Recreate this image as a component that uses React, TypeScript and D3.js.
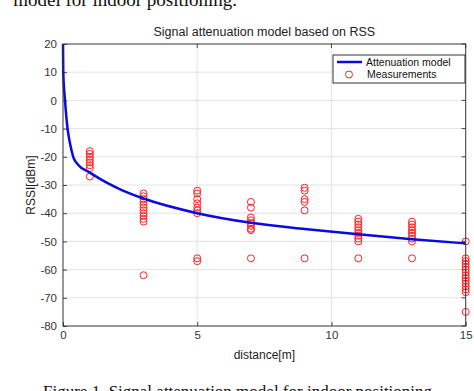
import React, { FC, useEffect, useRef } from 'react'
import * as d3 from 'd3'

// model curve
const modelDistance = [0, 0.01, 0.075, 0.17, 0.26, 0.38, 0.57, 1, 1.56, 2.19, 3, 5, 7, 9, 11, 13, 15]
const modelRss = [20, 10, 0, -10, -15.2, -20, -22.9, -25.6, -28.8, -31.8, -34.8, -40, -43.4, -45.6, -47.5, -49.2, -50.7]

// measurements per distance
const distances = [1, 3, 5, 7, 9, 11, 13, 15]
const rssAt1 = [-18, -19, -20, -21, -22, -23, -24, -27]
const rssAt3 = [-33, -34, -35, -36, -37, -38, -39, -40, -41, -42, -43, -62]
const rssAt5 = [-32, -33, -35, -36.5, -38, -39, -40, -56, -57]
const rssAt7 = [-36, -38, -41.5, -42.5, -43.5, -44.5, -45.5, -46, -56]
const rssAt9 = [-31, -32, -35, -36, -39, -56]
const rssAt11 = [-42, -43, -44, -45, -46, -47, -48, -49, -50, -56]
const rssAt13 = [-43, -44, -45, -46, -47, -48, -49, -50, -56]
const rssAt15 = [-50, -56, -57, -58, -59, -60, -61, -62, -63, -64, -65, -66, -67, -68, -75]
const measurements = [rssAt1, rssAt3, rssAt5, rssAt7, rssAt9, rssAt11, rssAt13, rssAt15]

const xTicks = [0, 5, 10, 15]
const yTicks = [20, 10, 0, -10, -20, -30, -40, -50, -60, -70, -80]

const W = 474
const H = 391
const left = 63
const right = 465.7
const top = 44
const bottom = 326
const sans = '"Liberation Sans", Arial, sans-serif'
const serif = '"Liberation Serif", "Times New Roman", serif'

const App: FC = () => {
	const xAxis = useRef<SVGGElement>(null)
	const yAxis = useRef<SVGGElement>(null)

	const x = d3.scaleLinear().domain([0, 15]).range([left, right])
	const y = d3.scaleLinear().domain([-80, 20]).range([bottom, top])

	const line = d3
		.line<number>()
		.x((d) => x(d))
		.y((_, i) => y(modelRss[i]))
		.curve(d3.curveMonotoneX)

	useEffect(() => {
		if (xAxis.current) {
			const g = d3.select(xAxis.current)
			g.call(
				d3
					.axisBottom(x)
					.tickValues(xTicks)
					.tickFormat((d) => String(d))
					.tickSize(-4)
					.tickSizeOuter(0)
					.tickPadding(5)
			)
			g.select('.domain').remove()
			g.selectAll('line').attr('stroke', '#444')
			g.selectAll('text').attr('fill', '#333').attr('font-size', 11.5).attr('font-family', sans)
		}
		if (yAxis.current) {
			const g = d3.select(yAxis.current)
			g.call(
				d3
					.axisLeft(y)
					.tickValues(yTicks)
					.tickFormat((d) => String(d))
					.tickSize(-4)
					.tickSizeOuter(0)
					.tickPadding(6)
			)
			g.select('.domain').remove()
			g.selectAll('line').attr('stroke', '#444')
			g.selectAll('text').attr('fill', '#333').attr('font-size', 11.5).attr('font-family', sans)
		}
	}, [])

	return (
		<svg
			width={W}
			height={H}
			style={{ position: 'absolute', left: 0, top: 0, background: '#fff' }}
		>
			{/* cropped caption text of the page */}
			<text x={237} y={6} textAnchor="end" fontFamily={serif} fontSize={19} fill="#111">
				model for indoor positioning.
			</text>
			<text x={43} y={397} fontFamily={serif} fontSize={17} fill="#111">
				Figure 1. Signal attenuation model for indoor positioning
			</text>

			{/* grid */}
			<g stroke="#e3e3e3" strokeWidth={1}>
				{yTicks.slice(1, -1).map((t) => (
					<line key={'gy' + t} x1={left} x2={right} y1={y(t)} y2={y(t)} />
				))}
				{xTicks.slice(1, -1).map((t) => (
					<line key={'gx' + t} x1={x(t)} x2={x(t)} y1={top} y2={bottom} />
				))}
			</g>

			{/* right / top ticks */}
			<g stroke="#444">
				{yTicks.map((t) => (
					<line key={'ry' + t} x1={right} x2={right - 4} y1={y(t)} y2={y(t)} />
				))}
				{xTicks.map((t) => (
					<line key={'tx' + t} x1={x(t)} x2={x(t)} y1={top} y2={top + 4} />
				))}
			</g>

			<g ref={xAxis} transform={`translate(0, ${bottom})`}></g>
			<g ref={yAxis} transform={`translate(${left}, 0)`}></g>

			{/* measurements */}
			<g fill="none" stroke="#ff2020" strokeWidth={1}>
				{measurements.map((vals, i) =>
					vals.map((v, j) => (
						<circle key={i + '-' + j} cx={x(distances[i])} cy={y(v)} r={3.5} />
					))
				)}
			</g>

			{/* model */}
			<path d={line(modelDistance) || ''} fill="none" stroke="#0a0ae0" strokeWidth={2.5} />

			<rect x={left} y={top} width={right - left} height={bottom - top} fill="none" stroke="#333" strokeWidth={1} />

			<text x={(left + right) / 2} y={36} textAnchor="middle" fontFamily={sans} fontSize={12.5} fill="#222">
				Signal attenuation model based on RSS
			</text>
			<text x={(left + right) / 2} y={359} textAnchor="middle" fontFamily={sans} fontSize={12} fill="#222">
				distance[m]
			</text>
			<text
				transform={`translate(35, ${(top + bottom) / 2}) rotate(-90)`}
				textAnchor="middle"
				fontFamily={sans}
				fontSize={12}
				fill="#222"
			>
				RSSI[dBm]
			</text>

			{/* legend */}
			<g>
				<rect x={333} y={55} width={132} height={28} fill="#fff" stroke="#333" strokeWidth={1} />
				<line x1={337} x2={362} y1={62} y2={62} stroke="#0a0ae0" strokeWidth={2.5} />
				<text x={366} y={66} fontFamily={sans} fontSize={10.5} fill="#111">
					Attenuation model
				</text>
				<circle cx={349} cy={74.5} r={3.5} fill="none" stroke="#ff2020" strokeWidth={1} />
				<text x={367} y={78} fontFamily={sans} fontSize={10.5} fill="#111">
					Measurements
				</text>
			</g>
		</svg>
	)
}

export default App
